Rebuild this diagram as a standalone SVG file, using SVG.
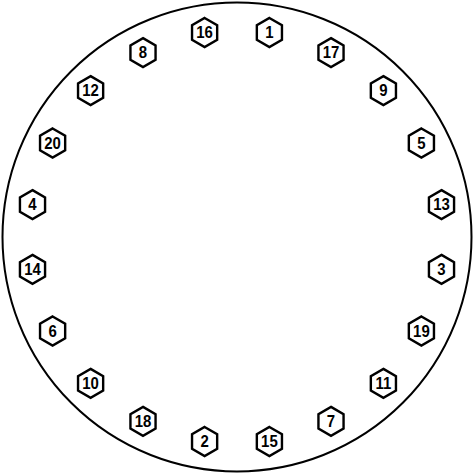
<svg xmlns="http://www.w3.org/2000/svg" width="474" height="474" viewBox="0 0 474 474">
<defs>
<style>
.hex{fill:#fff;stroke:#000;stroke-width:2.4;stroke-linejoin:miter}
.lbl{font-family:"Liberation Sans",Arial,sans-serif;font-weight:bold;font-size:17px;text-anchor:middle;dominant-baseline:central;fill:#000}
</style>
<polygon id="h" class="hex" points="0,-14.5 12.56,-7.25 12.56,7.25 0,14.5 -12.56,7.25 -12.56,-7.25"/>
</defs>
<rect width="474" height="474" fill="#fff"/>
<circle cx="237" cy="237" r="234.5" fill="none" stroke="#000" stroke-width="2"/>
<g id="n1" transform="translate(269.4,32.5)"><use href="#h"/><text class="lbl" transform="scale(0.88,1)">1</text></g>
<g id="n17" transform="translate(331,52.6)"><use href="#h"/><text class="lbl" transform="scale(0.88,1)">17</text></g>
<g id="n9" transform="translate(383.4,90.6)"><use href="#h"/><text class="lbl" transform="scale(0.88,1)">9</text></g>
<g id="n5" transform="translate(421.4,143)"><use href="#h"/><text class="lbl" transform="scale(0.88,1)">5</text></g>
<g id="n13" transform="translate(441.5,204.6)"><use href="#h"/><text class="lbl" transform="scale(0.88,1)">13</text></g>
<g id="n3" transform="translate(441.5,269.4)"><use href="#h"/><text class="lbl" transform="scale(0.88,1)">3</text></g>
<g id="n19" transform="translate(421.4,331)"><use href="#h"/><text class="lbl" transform="scale(0.88,1)">19</text></g>
<g id="n11" transform="translate(383.4,383.4)"><use href="#h"/><text class="lbl" transform="scale(0.88,1)">11</text></g>
<g id="n7" transform="translate(331,421.4)"><use href="#h"/><text class="lbl" transform="scale(0.88,1)">7</text></g>
<g id="n15" transform="translate(269.4,441.5)"><use href="#h"/><text class="lbl" transform="scale(0.88,1)">15</text></g>
<g id="n2" transform="translate(204.6,441.5)"><use href="#h"/><text class="lbl" transform="scale(0.88,1)">2</text></g>
<g id="n18" transform="translate(143,421.4)"><use href="#h"/><text class="lbl" transform="scale(0.88,1)">18</text></g>
<g id="n10" transform="translate(90.6,383.4)"><use href="#h"/><text class="lbl" transform="scale(0.88,1)">10</text></g>
<g id="n6" transform="translate(52.6,331)"><use href="#h"/><text class="lbl" transform="scale(0.88,1)">6</text></g>
<g id="n14" transform="translate(32.5,269.4)"><use href="#h"/><text class="lbl" transform="scale(0.88,1)">14</text></g>
<g id="n4" transform="translate(32.5,204.6)"><use href="#h"/><text class="lbl" transform="scale(0.88,1)">4</text></g>
<g id="n20" transform="translate(52.6,143)"><use href="#h"/><text class="lbl" transform="scale(0.88,1)">20</text></g>
<g id="n12" transform="translate(90.6,90.6)"><use href="#h"/><text class="lbl" transform="scale(0.88,1)">12</text></g>
<g id="n8" transform="translate(143,52.6)"><use href="#h"/><text class="lbl" transform="scale(0.88,1)">8</text></g>
<g id="n16" transform="translate(204.6,32.5)"><use href="#h"/><text class="lbl" transform="scale(0.88,1)">16</text></g>
<g id="connectors"></g>
</svg>
